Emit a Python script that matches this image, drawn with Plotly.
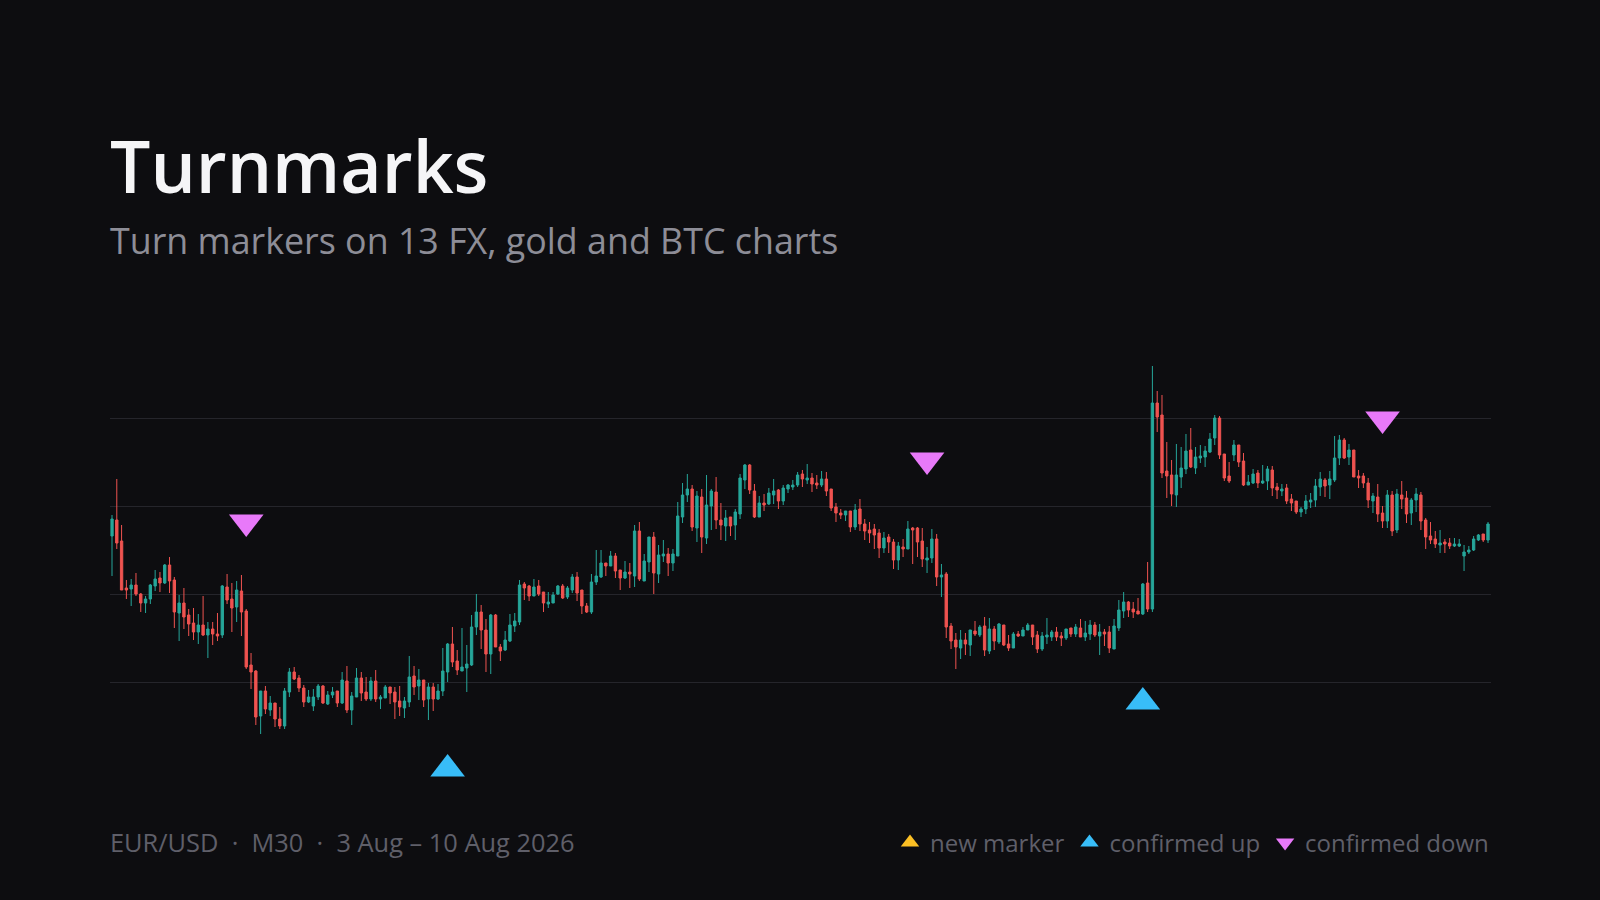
import plotly.graph_objects as go

# ---------------- data ----------------
days = ["2026-08-03", "2026-08-04", "2026-08-05", "2026-08-06", "2026-08-07", "2026-08-10"]
times = [f"{d} {h:02d}:{m:02d}" for d in days for h in range(24) for m in (0, 30)]

open_ = [
    1.16964, 1.16980, 1.16959, 1.16912, 1.16911, 1.16915, 1.16906, 1.16897, 1.16901, 1.16914,
    1.16922, 1.16917, 1.16935, 1.16920, 1.16887, 1.16897, 1.16885, 1.16877, 1.16868, 1.16875,
    1.16865, 1.16871, 1.16866, 1.16865, 1.16913, 1.16901, 1.16893, 1.16909, 1.16889, 1.16835,
    1.16829, 1.16784, 1.16809, 1.16790, 1.16797, 1.16781, 1.16774, 1.16808, 1.16828, 1.16822,
    1.16812, 1.16798, 1.16794, 1.16803, 1.16814, 1.16796, 1.16805, 1.16809, 1.16797, 1.16819,
    1.16790, 1.16803, 1.16822, 1.16808, 1.16801, 1.16819, 1.16801, 1.16802, 1.16813, 1.16808,
    1.16799, 1.16792, 1.16798, 1.16824, 1.16814, 1.16820, 1.16801, 1.16813, 1.16801, 1.16809,
    1.16828, 1.16856, 1.16839, 1.16829, 1.16832, 1.16835, 1.16873, 1.16888, 1.16870, 1.16846,
    1.16885, 1.16853, 1.16850, 1.16859, 1.16874, 1.16878, 1.16916, 1.16914, 1.16904, 1.16914,
    1.16908, 1.16896, 1.16897, 1.16906, 1.16914, 1.16903, 1.16910, 1.16923, 1.16910, 1.16894,
    1.16888, 1.16918, 1.16923, 1.16937, 1.16934, 1.16944, 1.16930, 1.16922, 1.16928, 1.16924,
    1.16969, 1.16919, 1.16938, 1.16963, 1.16926, 1.16944, 1.16946, 1.16937, 1.16944, 1.16983,
    1.17005, 1.17011, 1.16972, 1.17003, 1.16962, 1.16994, 1.17008, 1.16980, 1.16974, 1.16983,
    1.16975, 1.16986, 1.17020, 1.17035, 1.17009, 1.16983, 1.16997, 1.16996, 1.17005, 1.17010,
    1.16999, 1.17011, 1.17013, 1.17015, 1.17026, 1.17020, 1.17022, 1.17017, 1.17015, 1.17021,
    1.17011, 1.16993, 1.16987, 1.16985, 1.16989, 1.16973, 1.16991, 1.16976, 1.16970, 1.16971,
    1.16967, 1.16952, 1.16963, 1.16958, 1.16940, 1.16953, 1.16951, 1.16972, 1.16972, 1.16959,
    1.16940, 1.16942, 1.16961, 1.16923, 1.16926, 1.16874, 1.16860, 1.16852, 1.16860, 1.16855,
    1.16869, 1.16865, 1.16874, 1.16849, 1.16871, 1.16858, 1.16875, 1.16856, 1.16852, 1.16866,
    1.16864, 1.16870, 1.16875, 1.16865, 1.16851, 1.16863, 1.16863, 1.16868, 1.16864, 1.16862,
    1.16872, 1.16866, 1.16872, 1.16863, 1.16866, 1.16875, 1.16864, 1.16868, 1.16868, 1.16851,
    1.16872, 1.16889, 1.16898, 1.16891, 1.16889, 1.16886, 1.16917, 1.16891, 1.17097, 1.17085,
    1.17029, 1.17025, 1.17005, 1.17023, 1.17031, 1.17050, 1.17032, 1.17042, 1.17043, 1.17048,
    1.17062, 1.17082, 1.17046, 1.17024, 1.17045, 1.17055, 1.17039, 1.17015, 1.17017, 1.17027,
    1.17017, 1.17019, 1.17030, 1.17013, 1.17009, 1.17012, 1.17001, 1.16999, 1.16988, 1.16991,
    1.16998, 1.17000, 1.17013, 1.17020, 1.17015, 1.17020, 1.17042, 1.17060, 1.17043, 1.17050,
    1.17024, 1.17024, 1.17017, 1.16999, 1.17003, 1.16987, 1.16979, 1.17005, 1.16970, 1.17005,
    1.17002, 1.16987, 1.17000, 1.17005, 1.16980, 1.16964, 1.16961, 1.16955, 1.16958, 1.16957,
    1.16954, 1.16954, 1.16944, 1.16948, 1.16950, 1.16960, 1.16966, 1.16960,
]

high = [
    1.16985, 1.17021, 1.16975, 1.16920, 1.16921, 1.16927, 1.16907, 1.16904, 1.16916, 1.16930,
    1.16928, 1.16936, 1.16943, 1.16923, 1.16905, 1.16912, 1.16891, 1.16892, 1.16886, 1.16904,
    1.16878, 1.16878, 1.16887, 1.16915, 1.16926, 1.16917, 1.16919, 1.16925, 1.16891, 1.16847,
    1.16830, 1.16809, 1.16814, 1.16804, 1.16797, 1.16793, 1.16812, 1.16832, 1.16833, 1.16825,
    1.16815, 1.16810, 1.16811, 1.16816, 1.16815, 1.16809, 1.16813, 1.16809, 1.16828, 1.16834,
    1.16808, 1.16832, 1.16828, 1.16823, 1.16823, 1.16830, 1.16805, 1.16815, 1.16813, 1.16813,
    1.16814, 1.16803, 1.16844, 1.16834, 1.16831, 1.16820, 1.16817, 1.16817, 1.16816, 1.16852,
    1.16857, 1.16873, 1.16850, 1.16872, 1.16855, 1.16885, 1.16906, 1.16895, 1.16881, 1.16886,
    1.16886, 1.16856, 1.16869, 1.16886, 1.16887, 1.16920, 1.16918, 1.16915, 1.16921, 1.16920,
    1.16908, 1.16908, 1.16908, 1.16915, 1.16916, 1.16914, 1.16926, 1.16928, 1.16910, 1.16897,
    1.16926, 1.16950, 1.16950, 1.16937, 1.16949, 1.16947, 1.16930, 1.16939, 1.16937, 1.16975,
    1.16978, 1.16946, 1.16963, 1.16968, 1.16955, 1.16960, 1.16952, 1.16951, 1.16998, 1.17017,
    1.17026, 1.17015, 1.17009, 1.17011, 1.17025, 1.17011, 1.17023, 1.16997, 1.16990, 1.16983,
    1.16991, 1.17026, 1.17036, 1.17036, 1.17016, 1.17004, 1.17006, 1.17012, 1.17021, 1.17011,
    1.17015, 1.17016, 1.17020, 1.17028, 1.17030, 1.17036, 1.17027, 1.17025, 1.17029, 1.17028,
    1.17011, 1.16997, 1.16991, 1.16989, 1.16989, 1.16996, 1.17001, 1.16981, 1.16978, 1.16976,
    1.16971, 1.16968, 1.16966, 1.16961, 1.16958, 1.16961, 1.16979, 1.16973, 1.16973, 1.16972,
    1.16953, 1.16971, 1.16966, 1.16936, 1.16928, 1.16877, 1.16867, 1.16870, 1.16867, 1.16870,
    1.16879, 1.16875, 1.16883, 1.16882, 1.16874, 1.16877, 1.16875, 1.16865, 1.16868, 1.16869,
    1.16873, 1.16877, 1.16875, 1.16869, 1.16868, 1.16882, 1.16870, 1.16873, 1.16868, 1.16871,
    1.16872, 1.16876, 1.16881, 1.16879, 1.16880, 1.16878, 1.16876, 1.16871, 1.16874, 1.16881,
    1.16900, 1.16908, 1.16899, 1.16898, 1.16902, 1.16917, 1.16938, 1.17134, 1.17109, 1.17105,
    1.17058, 1.17040, 1.17056, 1.17053, 1.17066, 1.17072, 1.17053, 1.17055, 1.17054, 1.17067,
    1.17085, 1.17084, 1.17046, 1.17038, 1.17060, 1.17055, 1.17047, 1.17025, 1.17031, 1.17030,
    1.17035, 1.17034, 1.17034, 1.17017, 1.17016, 1.17016, 1.17006, 1.16999, 1.16993, 1.17005,
    1.17007, 1.17021, 1.17028, 1.17022, 1.17029, 1.17064, 1.17065, 1.17062, 1.17056, 1.17050,
    1.17030, 1.17027, 1.17022, 1.17007, 1.17016, 1.16994, 1.17010, 1.17009, 1.17011, 1.17019,
    1.17009, 1.17002, 1.17012, 1.17008, 1.16982, 1.16978, 1.16969, 1.16970, 1.16961, 1.16962,
    1.16962, 1.16961, 1.16955, 1.16954, 1.16964, 1.16966, 1.16966, 1.16978,
]

low = [
    1.16924, 1.16951, 1.16910, 1.16901, 1.16894, 1.16904, 1.16888, 1.16887, 1.16896, 1.16909,
    1.16908, 1.16916, 1.16907, 1.16872, 1.16859, 1.16871, 1.16864, 1.16860, 1.16856, 1.16864,
    1.16842, 1.16855, 1.16859, 1.16862, 1.16896, 1.16868, 1.16878, 1.16864, 1.16831, 1.16811,
    1.16775, 1.16766, 1.16786, 1.16784, 1.16773, 1.16771, 1.16771, 1.16803, 1.16820, 1.16808,
    1.16793, 1.16797, 1.16789, 1.16800, 1.16796, 1.16795, 1.16802, 1.16793, 1.16796, 1.16787,
    1.16775, 1.16803, 1.16799, 1.16799, 1.16799, 1.16798, 1.16791, 1.16802, 1.16796, 1.16781,
    1.16784, 1.16782, 1.16793, 1.16805, 1.16800, 1.16793, 1.16780, 1.16789, 1.16800, 1.16804,
    1.16818, 1.16833, 1.16825, 1.16829, 1.16808, 1.16834, 1.16865, 1.16851, 1.16828, 1.16826,
    1.16853, 1.16839, 1.16849, 1.16858, 1.16868, 1.16875, 1.16900, 1.16899, 1.16904, 1.16904,
    1.16888, 1.16892, 1.16897, 1.16905, 1.16901, 1.16901, 1.16907, 1.16899, 1.16886, 1.16887,
    1.16886, 1.16915, 1.16922, 1.16924, 1.16934, 1.16922, 1.16910, 1.16921, 1.16912, 1.16913,
    1.16919, 1.16919, 1.16928, 1.16906, 1.16917, 1.16938, 1.16924, 1.16929, 1.16944, 1.16977,
    1.16998, 1.16969, 1.16958, 1.16947, 1.16956, 1.16970, 1.16971, 1.16960, 1.16959, 1.16964,
    1.16960, 1.16981, 1.17011, 1.17006, 1.16982, 1.16983, 1.16989, 1.16995, 1.16996, 1.16991,
    1.16995, 1.17007, 1.17010, 1.17013, 1.17013, 1.17016, 1.17008, 1.17011, 1.17013, 1.17004,
    1.16989, 1.16978, 1.16981, 1.16979, 1.16968, 1.16970, 1.16969, 1.16960, 1.16957, 1.16951,
    1.16942, 1.16947, 1.16947, 1.16931, 1.16930, 1.16943, 1.16951, 1.16936, 1.16943, 1.16933,
    1.16927, 1.16937, 1.16914, 1.16903, 1.16862, 1.16851, 1.16831, 1.16841, 1.16845, 1.16844,
    1.16864, 1.16863, 1.16844, 1.16846, 1.16850, 1.16856, 1.16854, 1.16849, 1.16852, 1.16863,
    1.16864, 1.16870, 1.16855, 1.16847, 1.16849, 1.16856, 1.16859, 1.16859, 1.16854, 1.16860,
    1.16863, 1.16863, 1.16863, 1.16859, 1.16860, 1.16863, 1.16845, 1.16854, 1.16847, 1.16851,
    1.16869, 1.16882, 1.16883, 1.16882, 1.16886, 1.16885, 1.16888, 1.16888, 1.17068, 1.17022,
    1.17002, 1.16994, 1.16993, 1.17012, 1.17026, 1.17032, 1.17026, 1.17037, 1.17033, 1.17047,
    1.17055, 1.17041, 1.17019, 1.17017, 1.17039, 1.17033, 1.17014, 1.17015, 1.17016, 1.17012,
    1.17016, 1.17010, 1.17004, 1.17001, 1.17004, 1.16996, 1.16989, 1.16986, 1.16983, 1.16986,
    1.16992, 1.16993, 1.17004, 1.17003, 1.17001, 1.17018, 1.17035, 1.17041, 1.17035, 1.17023,
    1.17012, 1.17012, 1.16992, 1.16987, 1.16978, 1.16972, 1.16972, 1.16964, 1.16967, 1.16991,
    1.16977, 1.16975, 1.16988, 1.16970, 1.16951, 1.16956, 1.16952, 1.16947, 1.16947, 1.16951,
    1.16953, 1.16953, 1.16929, 1.16946, 1.16949, 1.16959, 1.16958, 1.16957,
]

close = [
    1.16981, 1.16957, 1.16910, 1.16910, 1.16915, 1.16906, 1.16897, 1.16901, 1.16915, 1.16921,
    1.16917, 1.16935, 1.16919, 1.16888, 1.16897, 1.16883, 1.16876, 1.16868, 1.16875, 1.16865,
    1.16871, 1.16866, 1.16864, 1.16914, 1.16900, 1.16892, 1.16910, 1.16888, 1.16833, 1.16828,
    1.16783, 1.16809, 1.16791, 1.16797, 1.16781, 1.16774, 1.16809, 1.16828, 1.16821, 1.16812,
    1.16798, 1.16803, 1.16803, 1.16814, 1.16797, 1.16805, 1.16808, 1.16797, 1.16820, 1.16790,
    1.16804, 1.16822, 1.16807, 1.16801, 1.16819, 1.16801, 1.16803, 1.16813, 1.16807, 1.16798,
    1.16793, 1.16799, 1.16823, 1.16813, 1.16820, 1.16800, 1.16813, 1.16801, 1.16809, 1.16829,
    1.16856, 1.16838, 1.16830, 1.16833, 1.16836, 1.16873, 1.16888, 1.16870, 1.16846, 1.16885,
    1.16853, 1.16849, 1.16860, 1.16875, 1.16879, 1.16915, 1.16912, 1.16904, 1.16913, 1.16906,
    1.16897, 1.16898, 1.16905, 1.16914, 1.16902, 1.16912, 1.16923, 1.16907, 1.16894, 1.16888,
    1.16918, 1.16924, 1.16937, 1.16934, 1.16944, 1.16929, 1.16922, 1.16928, 1.16926, 1.16969,
    1.16921, 1.16939, 1.16963, 1.16927, 1.16945, 1.16946, 1.16937, 1.16946, 1.16984, 1.17005,
    1.17011, 1.16973, 1.17004, 1.16963, 1.16995, 1.17009, 1.16980, 1.16975, 1.16982, 1.16974,
    1.16988, 1.17022, 1.17035, 1.17010, 1.16983, 1.16997, 1.16995, 1.17007, 1.17009, 1.16999,
    1.17012, 1.17015, 1.17015, 1.17025, 1.17021, 1.17022, 1.17016, 1.17015, 1.17021, 1.17009,
    1.16992, 1.16987, 1.16985, 1.16989, 1.16973, 1.16990, 1.16976, 1.16969, 1.16967, 1.16965,
    1.16952, 1.16962, 1.16958, 1.16940, 1.16954, 1.16951, 1.16971, 1.16970, 1.16958, 1.16941,
    1.16942, 1.16961, 1.16923, 1.16925, 1.16873, 1.16859, 1.16853, 1.16860, 1.16856, 1.16870,
    1.16866, 1.16873, 1.16850, 1.16871, 1.16859, 1.16876, 1.16855, 1.16852, 1.16866, 1.16864,
    1.16870, 1.16875, 1.16863, 1.16851, 1.16864, 1.16865, 1.16868, 1.16863, 1.16862, 1.16871,
    1.16866, 1.16873, 1.16863, 1.16867, 1.16875, 1.16865, 1.16868, 1.16866, 1.16852, 1.16874,
    1.16890, 1.16898, 1.16890, 1.16888, 1.16886, 1.16916, 1.16891, 1.17097, 1.17083, 1.17027,
    1.17024, 1.17006, 1.17025, 1.17032, 1.17049, 1.17033, 1.17043, 1.17044, 1.17049, 1.17061,
    1.17082, 1.17045, 1.17022, 1.17019, 1.17055, 1.17038, 1.17015, 1.17018, 1.17026, 1.17017,
    1.17019, 1.17031, 1.17012, 1.17010, 1.17011, 1.16999, 1.16997, 1.16988, 1.16991, 1.16999,
    1.17000, 1.17014, 1.17021, 1.17014, 1.17021, 1.17042, 1.17060, 1.17042, 1.17050, 1.17023,
    1.17022, 1.17017, 1.17000, 1.17004, 1.16986, 1.16979, 1.17005, 1.16969, 1.17006, 1.17001,
    1.16986, 1.17000, 1.17006, 1.16979, 1.16963, 1.16960, 1.16956, 1.16957, 1.16956, 1.16954,
    1.16956, 1.16956, 1.16948, 1.16950, 1.16961, 1.16965, 1.16960, 1.16976,
]

# turn markers: candle index + price level
new_idx, new_price = [], []
up_idx, up_price = [70, 215], [1.16731, 1.16798]
down_idx, down_price = [28, 170, 265], [1.16978, 1.17040, 1.17081]

grid_levels = [1.17082, 1.16994, 1.16906, 1.16818]

TITLE = "Turnmarks"
SUBTITLE = "Turn markers on 13 FX, gold and BTC charts"
NB = "\u00a0"
FOOTER = f"EUR/USD{NB}{NB}·{NB}{NB}M30{NB}{NB}·{NB}{NB}3 Aug – 10 Aug 2026"

# ---------------- style ----------------
BG = "#0d0d10"
GRID = "#25252b"
UP = "#26a69a"
DOWN = "#ef5350"
YELLOW = "#fbbf24"
BLUE = "#38bdf8"
PINK = "#e879f9"
FONT = "Open Sans"
W, H = 1600, 900

fig = go.Figure()
fig.add_trace(go.Candlestick(
    x=times, open=open_, high=high, low=low, close=close,
    increasing=dict(line=dict(color=UP, width=1), fillcolor=UP),
    decreasing=dict(line=dict(color=DOWN, width=1), fillcolor=DOWN),
    whiskerwidth=0, showlegend=False, hoverinfo="skip",
))
# "new marker" has no points on this chart; a single empty point keeps its legend entry
new_x = [times[i] for i in new_idx] or [None]
new_y = new_price or [None]
fig.add_trace(go.Scatter(
    x=new_x, y=new_y, mode="markers", name="new marker",
    marker=dict(symbol="triangle-up", size=30, color=YELLOW, line=dict(width=0)),
    cliponaxis=False,
))
fig.add_trace(go.Scatter(
    x=[times[i] for i in up_idx], y=up_price, mode="markers", name="confirmed up",
    marker=dict(symbol="triangle-up", size=30, color=BLUE, line=dict(width=0)),
    cliponaxis=False,
))
fig.add_trace(go.Scatter(
    x=[times[i] for i in down_idx], y=down_price, mode="markers", name="confirmed down",
    marker=dict(symbol="triangle-down", size=30, color=PINK, line=dict(width=0)),
    cliponaxis=False,
))

x0, x1 = 110.2, 1490.8
y_top, y_bot = 340, 790

fig.update_layout(
    width=W, height=H, autosize=False,
    margin=dict(l=0, r=0, t=0, b=0),
    paper_bgcolor=BG, plot_bgcolor=BG,
    font=dict(family=FONT, color="#5f5f69"),
    hovermode=False, dragmode=False,
    xaxis=dict(
        type="category", domain=[x0 / W, x1 / W], range=[-0.375, 287.58],
        showgrid=False, showticklabels=False, zeroline=False, showline=False, ticks="",
        rangeslider=dict(visible=False), fixedrange=True,
    ),
    yaxis=dict(
        domain=[1 - y_bot / H, 1 - y_top / H], range=[1.17500 - y_bot / 1e5, 1.17500 - y_top / 1e5],
        tickvals=grid_levels, showticklabels=False, showgrid=True, gridcolor=GRID, gridwidth=1,
        zeroline=False, showline=False, ticks="", fixedrange=True,
    ),
    showlegend=True,
    legend=dict(
        orientation="h", x=1494 / W, xanchor="right", y=1 - 843 / H, yanchor="middle",
        bgcolor="rgba(0,0,0,0)", borderwidth=0,
        font=dict(family=FONT, size=24, color="#5f5f69"),
        itemclick=False, itemdoubleclick=False,
    ),
    annotations=[
        dict(text=TITLE, x=108 / W, y=1 - 166 / H, xref="paper", yref="paper",
             xanchor="left", yanchor="middle", showarrow=False,
             font=dict(family=FONT, size=71.5, color="#f5f5f7", weight=600)),
        dict(text=SUBTITLE, x=108 / W, y=1 - 240 / H, xref="paper", yref="paper",
             xanchor="left", yanchor="middle", showarrow=False,
             font=dict(family=FONT, size=35.8, color="#8d8d97")),
        dict(text=FOOTER, x=108 / W, y=1 - 842 / H, xref="paper", yref="paper",
             xanchor="left", yanchor="middle", showarrow=False,
             font=dict(family=FONT, size=25.4, color="#5f5f69")),
    ],
)

fig.write_html(
    "out.html",
    config={"displayModeBar": False, "staticPlot": True},
    post_script="document.body.style.margin='0';document.body.style.overflow='hidden';",
)
